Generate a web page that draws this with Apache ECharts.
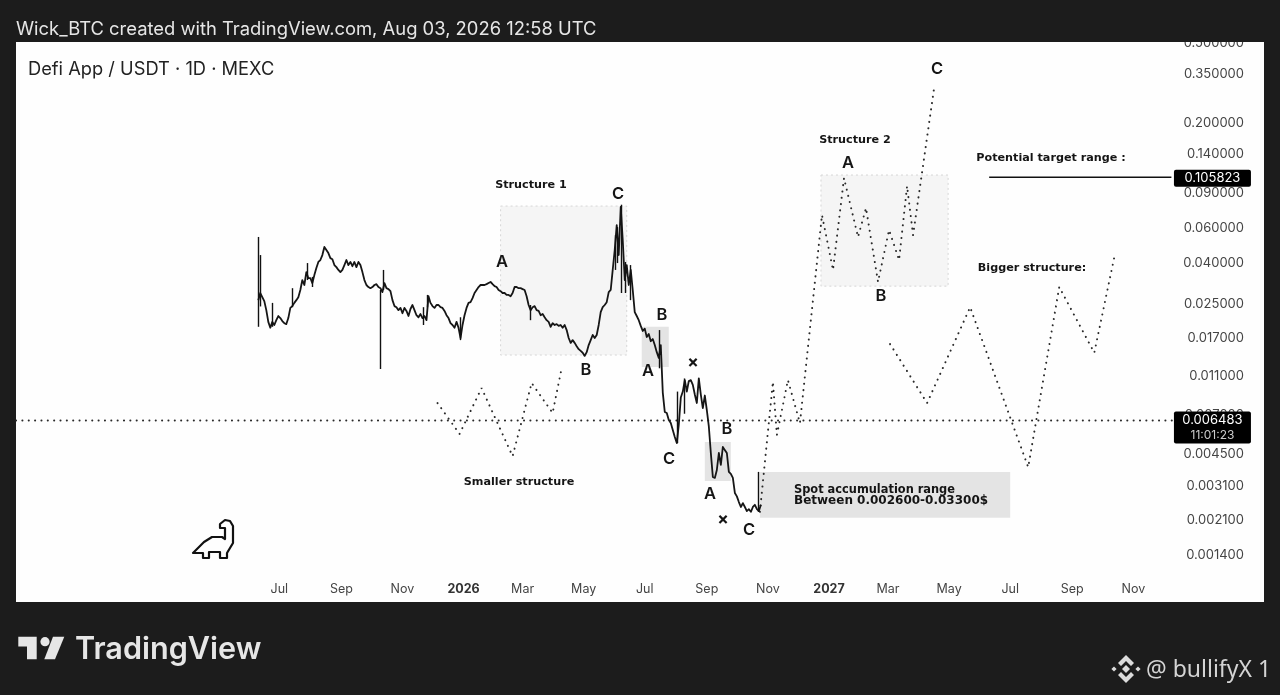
<!DOCTYPE html>
<html><head><meta charset="utf-8"><style>html,body{margin:0;padding:0;background:#1c1c1c}#c{width:1280px;height:695px}</style>
<script src="https://cdn.jsdelivr.net/npm/echarts@6/dist/echarts.min.js"></script></head><body><div id="c"></div>
<script>
// ---- data ----
const priceStart = '2025-06-10';
const priceStepDays = 2;
const closes = [
.0258,.0280,.0267,.0255,.0230,.0201,.0188,.0201,.0194,.0205,.0215,.0210,.0203,.0198,.0196,.0210,.0236,.0241,.0250,.0258,
.0267,.0290,.0325,.0307,.0356,.0332,.0332,.0314,.0344,.0373,.0400,.0409,.0433,.0475,.0459,.0443,.0418,.0413,.0386,.0377,
.0365,.0356,.0365,.0386,.0409,.0386,.0400,.0381,.0400,.0377,.0400,.0386,.0356,.0325,.0307,.0300,.0296,.0300,.0307,.0310,
.0300,.0296,.0283,.0314,.0296,.0293,.0286,.0258,.0241,.0238,.0230,.0236,.0222,.0236,.0228,.0215,.0233,.0244,.0230,.0217,
.0212,.0220,.0210,.0215,.0205,.0270,.0250,.0241,.0236,.0244,.0244,.0238,.0236,.0228,.0217,.0210,.0198,.0194,.0188,.0201,
.0188,.0167,.0194,.0217,.0236,.0250,.0252,.0264,.0280,.0290,.0300,.0307,.0307,.0307,.0310,.0314,.0318,.0310,.0303,.0300,
.0290,.0286,.0280,.0280,.0274,.0274,.0270,.0280,.0300,.0300,.0296,.0296,.0293,.0290,.0270,.0244,.0230,.0238,.0241,.0230,
.0228,.0217,.0220,.0212,.0205,.0201,.0190,.0198,.0194,.0196,.0192,.0194,.0188,.0194,.0183,.0167,.0158,.0163,.0158,.0152,
.0147,.0144,.0141,.0136,.0142,.0154,.0163,.0173,.0167,.0173,.0194,.0225,.0238,.0244,.0252,.0283,.0290,.0365,.0459,.0611,
.0433,.0752,.0515,.0325,.0386,.0307,.0365,.0290,.0225,.0215,.0205,.0192,.0181,.0186,.0169,.0175,.0161,.0165,.0154,.0142,
.0133,.0154,.00893,.00714,.00706,.00651,.00629,.00581,.00536,.00500,.00617,.00843,.00903,.0103,.00903,.0102,.0103,.00975,.00873,.00792,
.0105,.00873,.00747,.00863,.00730,.00605,.00446,.00339,.00335,.00367,.00446,.00389,.00478,.00461,.00446,.00359,.00351,.00335,.00282,.00271,
.00254,.00240,.00251,.00240,.00229,.00234,.00227,.00240,.00246,.00234,.00229,.00246];
const wickDates = ['2025-06-10','2025-06-12','2025-06-24','2025-07-14','2025-07-29','2025-08-03','2025-10-10','2025-10-13','2025-11-22','2025-11-26','2025-12-29','2026-03-09','2026-06-02','2026-06-04','2026-06-08','2026-06-12','2026-06-17','2026-07-16','2026-08-03','2026-08-10','2026-10-23'];
const wickLows  = [.0190,.0240,.0190,.0238,.0325,.0300,.0117,.0290,.0194,.0238,.0163,.0205,.0365,.0395,.0280,.0280,.0258,.0118,.00500,.00700,.00227];
const wickHighs = [.0533,.0433,.0250,.0296,.0395,.0337,.0290,.0365,.0238,.0274,.0212,.0244,.0545,.0597,.0772,.0400,.0386,.0183,.00903,.0105,.00359];

const mainDates  = ['2026-10-24','2026-11-06','2026-11-10','2026-11-21','2026-12-03','2026-12-25','2027-01-05','2027-01-16','2027-01-30','2027-02-07','2027-02-19','2027-03-02','2027-03-12','2027-03-20','2027-03-26','2027-04-16'];
const mainPrices = [.00227,.0101,.00549,.0103,.00629,.0686,.0365,.1048,.0533,.0743,.0318,.0577,.0409,.0957,.0545,.2947];
const smallDates  = ['2025-12-06','2025-12-28','2026-01-19','2026-02-19','2026-03-10','2026-03-31','2026-04-09'];
const smallPrices = [.00792,.00555,.0094,.0043,.00996,.00706,.01183];
const bigDates  = ['2027-03-03','2027-04-09','2027-05-22','2027-07-19','2027-08-19','2027-09-23','2027-10-13'];
const bigPrices = [.01559,.00792,.0238,.00379,.0300,.0141,.0423];

const currentPrice = 0.006483;
const targetPrice = 0.105823;
const axisStart = '2024-10-11';
const axisEnd = '2028-03-10T12:00:00Z';
const currentLineEnd = '2027-12-11';
const targetLineDates = ['2027-06-10','2027-12-09'];
const tagDate = '2028-01-19';

const yTicks = [0.5,0.35,0.2,0.14,0.09,0.06,0.04,0.025,0.017,0.011,0.007,0.0045,0.0031,0.0021,0.0014];
const xTickDates = ['2025-07-01','2025-09-01','2025-11-01','2026-01-01','2026-03-01','2026-05-01','2026-07-01','2026-09-01','2026-11-01','2027-01-01','2027-03-01','2027-05-01','2027-07-01','2027-09-01','2027-11-01'];
const xTickLabels = ['Jul','Sep','Nov','2026','Mar','May','Jul','Sep','Nov','2027','Mar','May','Jul','Sep','Nov'];

const boxStarts = ['2026-02-07','2026-12-24','2026-06-28','2026-08-30','2026-10-24'];
const boxEnds   = ['2026-06-13','2027-04-30','2026-07-25','2026-09-25','2027-07-01'];
const boxHighs  = [.0760,.1085,.0190,.00506,.00359];
const boxLows   = [.01374,.0303,.01197,.00323,.00212];
const boxKinds  = ['dashed','dashed','solid','solid','solid'];

// ---- helpers ----
const ts = s => new Date(s.length === 10 ? s + 'T00:00:00Z' : s).getTime();
const pairs = (d, v) => d.map((x, i) => [ts(x), v[i]]);
const priceData = closes.map((v, i) => [ts(priceStart) + i * priceStepDays * 864e5, v]);
const wickData = wickDates.map((d, i) => [ts(d), wickLows[i], wickHighs[i], wickLows[i], wickHighs[i]]);
const labelOf = v => { const i = xTickDates.findIndex(d => ts(d) === v); return i < 0 ? '' : xTickLabels[i]; };
const dot = {type: [0.1, 6.25], width: 2, color: '#2a2a2a', cap: 'round'};

const F = 'Inter, "Liberation Sans", sans-serif';
const txt = (text, x, y, font, fill, align, z) => ({type: 'text', z: z || 20, style: {text, x, y, font, fill: fill || '#151515', textAlign: align || 'center', textVerticalAlign: 'middle'}});
const wave = (t, x, y) => txt(t, x, y, '600 16.5px ' + F);
const cap = (t, x, y, a, size) => txt(t, x, y, '700 ' + (size || 11.2) + 'px "DejaVu Sans", sans-serif', '#151515', a);
const poly = (points, fill, z) => ({type: 'polygon', z: z || 20, shape: {points}, style: {fill}});
const bi = (x, y, pts) => poly(pts.map(p => [p[0] + x, p[1] + y]), '#dcdcdc');
const dia = (x, y, r) => bi(x, y, [[0, -r], [r, 0], [0, r], [-r, 0]]);

const graphic = [
  {type: 'rect', z: 5, shape: {x: 0, y: 0, width: 1280, height: 42}, style: {fill: '#1c1c1c'}},
  txt('Wick_BTC created with TradingView.com, Aug 03, 2026 12:58 UTC', 16, 29, '400 18.4px ' + F, '#e6e6e6', 'left', 30),
  txt('Defi App / USDT · 1D · MEXC', 28, 70, '400 18.3px ' + F, '#222', 'left'),
  wave('A', 502, 262), wave('B', 586, 370), wave('C', 618, 194), wave('A', 648, 371), wave('B', 662, 315), wave('C', 669, 459),
  wave('B', 727, 429), wave('A', 710, 494), wave('C', 749, 530), wave('A', 848, 163), wave('B', 881, 296), wave('C', 937, 69),
  txt('×', 693, 363, '700 17px ' + F), txt('×', 723, 520, '700 17px ' + F),
  cap('Structure 1', 531, 185), cap('Structure 2', 855, 140), cap('Smaller structure', 519, 482),
  cap('Potential target range :', 1051, 158), cap('Bigger structure:', 1032, 268),
  cap('Spot accumulation range', 794, 490, 'left', 11.4), cap('Between 0.002600-0.03300$', 794, 501, 'left', 12),
  {type: 'polygon', z: 20, shape: {points: [[193,553],[204,542],[212,537],[222,537],[225,539],[225,528],[220,528],[220,524],[225,520],[230,521],[233,526],[233,543],[227,553],[227,558],[220,558],[220,552],[209,552],[209,558],[203,558],[203,553]]}, style: {fill: 'none', stroke: '#111', lineWidth: 2.2, lineJoin: 'round'}},
  poly([[18.3,636.7],[36.7,636.7],[36.7,659.3],[27,659.3],[27,646.5],[18.3,646.5]], '#e6e6e6'),
  {type: 'circle', z: 20, shape: {cx: 45, cy: 641.7, r: 4.6}, style: {fill: '#e6e6e6'}},
  poly([[53,636.7],[64.3,636.7],[55,659.3],[44.3,659.3]], '#e6e6e6'),
  txt('TradingView', 75, 650, '600 30.6px ' + F, '#e6e6e6', 'left'),
  bi(1126, 669, [[0,-14],[8,-6],[5,-3],[0,-8],[-5,-3],[-8,-6]]),
  bi(1126, 669, [[0,14],[8,6],[5,3],[0,8],[-5,3],[-8,6]]),
  dia(1126, 669, 4), dia(1114, 669, 2.6), dia(1138, 669, 2.6),
  txt('@ bullifyX 1', 1146, 670, '400 23px "Noto Sans", sans-serif', '#d4d4d4', 'left')
];

const tagLabel = (offset) => ({show: true, position: 'inside', offset, color: '#fff', backgroundColor: '#000', borderRadius: 2, width: 77, align: 'center', fontFamily: 'Inter', fontSize: 13, lineHeight: 15, padding: [1, 0, 1, 0]});

const option = {
  animation: false, backgroundColor: '#1c1c1c',
  grid: {left: 16, right: 16, top: 42, bottom: 93, show: true, backgroundColor: '#fefefe', borderWidth: 0},
  xAxis: {type: 'value', min: ts(axisStart), max: ts(axisEnd), position: 'bottom',
    axisLine: {show: false}, axisTick: {show: false}, splitLine: {show: false},
    axisLabel: {inside: true, margin: 6, customValues: xTickDates.map(ts), color: '#444', fontFamily: 'Inter', fontSize: 12.5, hideOverlap: false,
      formatter: v => { const l = labelOf(v); return /^\d/.test(l) ? '{y|' + l + '}' : l; },
      rich: {y: {fontWeight: 700, color: '#333', fontFamily: 'Inter', fontSize: 12.5}}}},
  yAxis: {type: 'log', min: 0.000806, max: 0.5, position: 'right',
    axisLine: {show: false}, axisTick: {show: false}, splitLine: {show: false}, minorTick: {show: false}, minorSplitLine: {show: false},
    axisLabel: {inside: true, margin: 20, customValues: yTicks, color: '#444', fontFamily: 'Inter', fontSize: 13, showMinLabel: true, showMaxLabel: true,
      formatter: v => '{v|' + Number(v).toFixed(6) + '}',
      rich: {v: {color: '#444', fontFamily: 'Inter', fontSize: 13, padding: [3, 0, 0, 0]}}}},
  graphic,
  series: [
    {type: 'line', name: 'boxes', data: [], z: 1, silent: true,
      markArea: {silent: true, z: 1, data: boxStarts.map((d, i) => [
        {xAxis: ts(d), yAxis: boxHighs[i], itemStyle: boxKinds[i] === 'dashed'
          ? {color: '#f5f5f5', borderColor: '#d6d6d6', borderWidth: 1, borderType: [2, 3]}
          : {color: '#e4e4e4', borderWidth: 0}},
        {xAxis: ts(boxEnds[i]), yAxis: boxLows[i]}])}},
    {type: 'line', name: 'Current', data: [[ts(axisStart), currentPrice], [ts(currentLineEnd), currentPrice]], showSymbol: false, lineStyle: dot, z: 3, silent: true},
    {type: 'line', name: 'Target', data: pairs(targetLineDates, [targetPrice, targetPrice]), showSymbol: false, lineStyle: {width: 1.6, color: '#111'}, z: 3, silent: true},
    {type: 'line', name: 'Main path', data: pairs(mainDates, mainPrices), showSymbol: false, lineStyle: dot, z: 3, silent: true},
    {type: 'line', name: 'Smaller structure', data: pairs(smallDates, smallPrices), showSymbol: false, lineStyle: dot, z: 3, silent: true},
    {type: 'line', name: 'Bigger structure', data: pairs(bigDates, bigPrices), showSymbol: false, lineStyle: dot, z: 3, silent: true},
    {type: 'candlestick', name: 'Wicks', data: wickData, barWidth: 1, z: 4, silent: true,
      itemStyle: {color: '#111', color0: '#111', borderColor: '#111', borderColor0: '#111', borderWidth: 1.4}},
    {type: 'line', name: 'Defi App / USDT', data: priceData, showSymbol: false, z: 4, silent: true, lineStyle: {width: 1.8, color: '#161616', join: 'round'}},
    {type: 'scatter', name: 'tag1', symbolSize: 0, z: 8, silent: true, itemStyle: {opacity: 1}, data: [[ts(tagDate), targetPrice]], label: Object.assign(tagLabel([0, 1]), {formatter: '0.105823'})},
    {type: 'scatter', name: 'tag2', symbolSize: 0, z: 8, silent: true, itemStyle: {opacity: 1}, data: [[ts(tagDate), currentPrice]], label: Object.assign(tagLabel([0, 7]), {formatter: '0.006483\n{t|11:01:23}', rich: {t: {color: '#ccc', fontFamily: 'Inter', fontSize: 12, lineHeight: 15}}})}
  ]
};
echarts.init(document.getElementById('c')).setOption(option);
</script></body></html>
